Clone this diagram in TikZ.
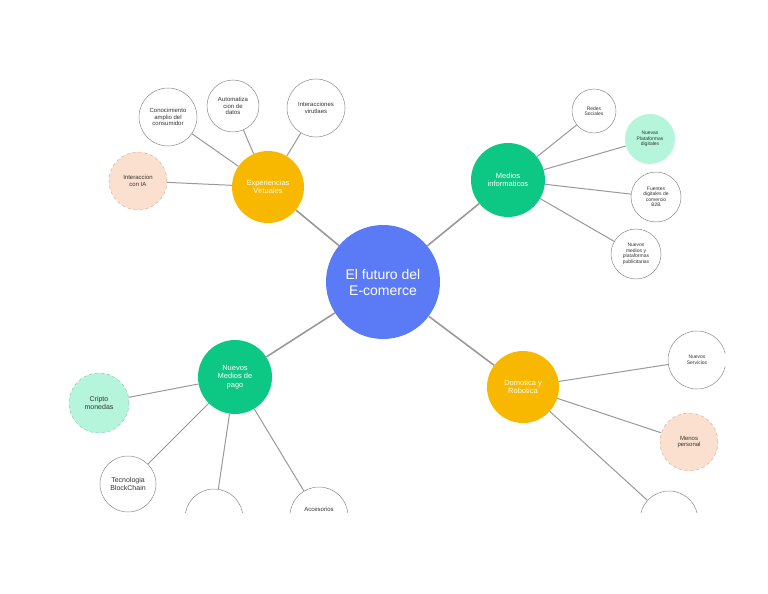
\documentclass[tikz,border=0pt]{standalone}
\usepackage{fontspec}
\setmainfont{Liberation Sans}
\begin{document}
\begin{tikzpicture}[x=1pt,y=-1pt,
  base/.style={circle,inner sep=0pt,align=center,font=\fontsize{6}{6.5}\selectfont},
  leaf/.style={base,draw=black!45,line width=0.5pt,fill=white,text=black!80},
  hub/.style={base,text=white,font=\fontsize{7.5}{8.5}\selectfont},
  spoke/.style={draw=black!40,line width=1.6pt},
  twig/.style={draw=black!40,line width=1pt}]
\useasboundingbox (0,0) rectangle (768,594);
\definecolor{cblue}{HTML}{5B7BF6}
\definecolor{cyel}{HTML}{F9B800}
\definecolor{cgrn}{HTML}{0DC784}
\definecolor{cpeach}{HTML}{FCE0CF}
\definecolor{cmint}{HTML}{B5F5DC}
\clip (0,0) rectangle (725,512);
\node[base,fill=cblue,text=white,minimum size=114pt,font=\fontsize{14}{16}\selectfont] (c) at (383,282) {El futuro del\\E-comerce};
\node[hub,fill=cyel,minimum size=72pt] (ev) at (268,187) {Experiencias\\Virtuales};
\node[hub,fill=cgrn,minimum size=74pt] (mi) at (508,180) {Medios\\informaticos};
\node[hub,fill=cgrn,minimum size=74pt] (mp) at (235,377) {Nuevos\\Medios de\\pago};
\node[hub,fill=cyel,minimum size=72pt] (dr) at (523,387) {Domotica y\\Robotica};
\node[leaf,minimum size=58pt] (l1) at (168,117) {Conocimiento\\amplio del\\consumidor};
\node[leaf,minimum size=52pt] (l2) at (233,106) {Automatiza\\cion de\\datos};
\node[leaf,minimum size=58pt] (l3) at (316,108) {Interacciones\\virutlaes};
\node[leaf,fill=cpeach,draw=cpeach!80!black,dashed,minimum size=58pt] (l4) at (138,181) {Interaccion\\con IA};
\node[leaf,minimum size=44pt,font=\fontsize{5}{5.5}\selectfont] (r1) at (594,111) {Redes\\Sociales};
\node[leaf,fill=cmint,draw=none,minimum size=50pt,font=\fontsize{5}{5.5}\selectfont] (r2) at (650,139) {Nuevas\\Plataformas\\digitales};
\node[leaf,minimum size=50pt,font=\fontsize{5}{5.5}\selectfont] (r3) at (656,197) {Fuentes\\digitales de\\comercio\\B2B};
\node[leaf,minimum size=50pt,font=\fontsize{5}{5.5}\selectfont] (r4) at (636,254) {Nuevos\\medios y\\plataformas\\publicitarias};
\node[leaf,minimum size=58pt,font=\fontsize{5}{5.5}\selectfont] (d1) at (697,360) {Nuevos\\Servicios};
\node[leaf,fill=cpeach,draw=cpeach!80!black,dashed,minimum size=58pt] (d2) at (689,442) {Menos\\personal};
\node[leaf,minimum size=58pt] (d3) at (669,520) {};
\node[leaf,fill=cmint,draw=cmint!80!black,dashed,minimum size=60pt,font=\fontsize{7}{8}\selectfont] (p1) at (99,403) {Cripto\\monedas};
\node[leaf,minimum size=56pt,font=\fontsize{7}{8}\selectfont] (p2) at (128,484) {Tecnologia\\BlockChain};
\node[leaf,minimum size=58pt] (p3) at (214,518) {};
\node[leaf,minimum size=58pt,text depth=14pt] (p4) at (319,516) {Accesorios};
\begin{scope}[on background layer/.try]
\end{scope}
\draw[spoke] (c) -- (ev); \draw[spoke] (c) -- (mi); \draw[spoke] (c) -- (mp); \draw[spoke] (c) -- (dr);
\foreach \a/\b in {ev/l1,ev/l2,ev/l3,ev/l4,mi/r1,mi/r2,mi/r3,mi/r4,dr/d1,dr/d2,dr/d3,mp/p1,mp/p2,mp/p3,mp/p4}
  \draw[twig] (\a) -- (\b);
\end{tikzpicture}
\end{document}
